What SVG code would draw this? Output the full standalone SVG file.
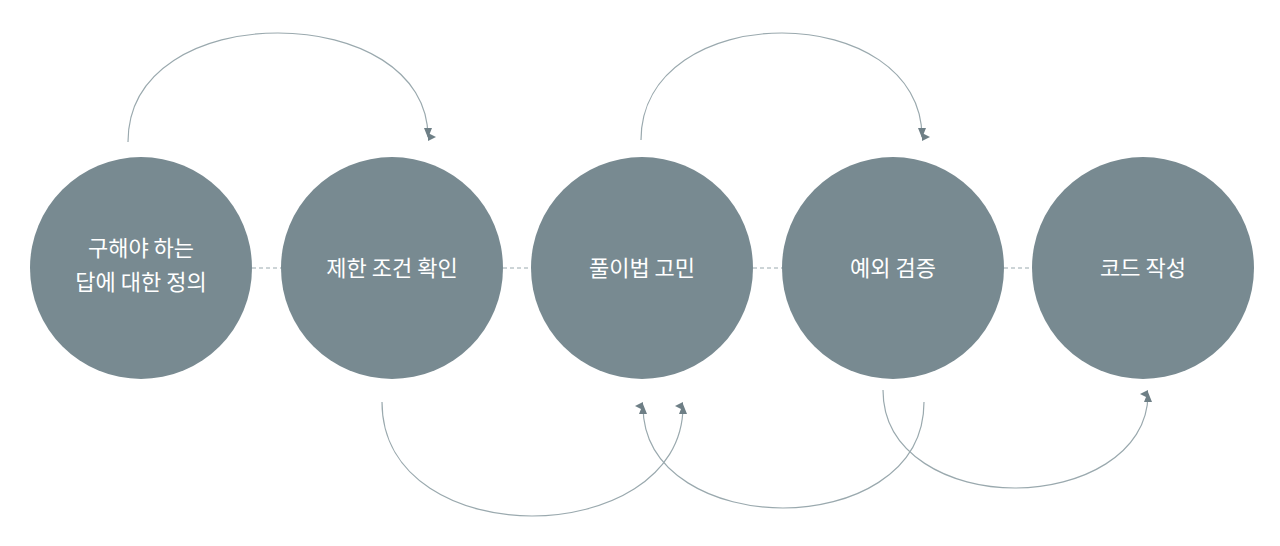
<svg xmlns="http://www.w3.org/2000/svg" width="1280" height="546" viewBox="0 0 1280 546">
<style>
.n{fill:#788a91}
.t{font-family:"Noto Sans CJK KR","Noto Sans",sans-serif;font-size:22px;fill:#fff;text-anchor:middle}
.a{fill:none;stroke:#9aa9ae;stroke-width:1.2;marker-end:url(#m)}
.d{stroke:#9aa9ae;stroke-width:1;stroke-dasharray:4 3}
</style>
<defs><marker id="m" viewBox="0 0 10 10" refX="5" refY="10" markerWidth="8" markerHeight="8" orient="auto-start-reverse" markerUnits="userSpaceOnUse"><path d="M0,10 L5,0 L10,10 Z" fill="#6e7f86" transform="rotate(0)"/></marker></defs>
<rect width="1280" height="546" fill="#fff"/>
<g id="connectors">
<line class="d" x1="252" y1="268" x2="281" y2="268"/>
<line class="d" x1="503" y1="268" x2="531" y2="268"/>
<line class="d" x1="753" y1="268" x2="782" y2="268"/>
<line class="d" x1="1004" y1="268" x2="1032" y2="268"/>
<path class="a" d="M128,142 C128,70 200,33 278,33 C356,33 428,70 428,137" marker-end="none"/>
<path class="a" d="M641,140 C641,70 710,33 782,33 C854,33 922,70 922,137" marker-end="none"/>
<path class="a" d="M382,402 C382,480 460,516 532,516 C604,516 683,480 683,406" marker-end="none"/>
<path class="a" d="M924,402 C924,475 850,508 783,508 C716,508 643,475 643,406" marker-end="none"/>
<path class="a" d="M883,390 C883,455 950,488 1015,488 C1080,488 1148,455 1148,394" marker-end="none"/>
<path d="M424,128 L432,128 L428,138 Z M918,128 L926,128 L922,138 Z" fill="#6e7f86"/>
<path d="M679,414 L687,414 L683,404 Z M639,414 L647,414 L643,404 Z M1144,402 L1152,402 L1148,392 Z" fill="#6e7f86"/>
</g>
<g id="n1"><circle class="n" cx="141" cy="268" r="111"/><text class="t" x="141" y="256">구해야 하는</text><text class="t" x="141" y="290">답에 대한 정의</text></g>
<g id="n2"><circle class="n" cx="392" cy="268" r="111"/><text class="t" x="392" y="276">제한 조건 확인</text></g>
<g id="n3"><circle class="n" cx="642" cy="268" r="111"/><text class="t" x="642" y="276">풀이법 고민</text></g>
<g id="n4"><circle class="n" cx="893" cy="268" r="111"/><text class="t" x="893" y="276">예외 검증</text></g>
<g id="n5"><circle class="n" cx="1143" cy="268" r="111"/><text class="t" x="1143" y="276">코드 작성</text></g>
</svg>
